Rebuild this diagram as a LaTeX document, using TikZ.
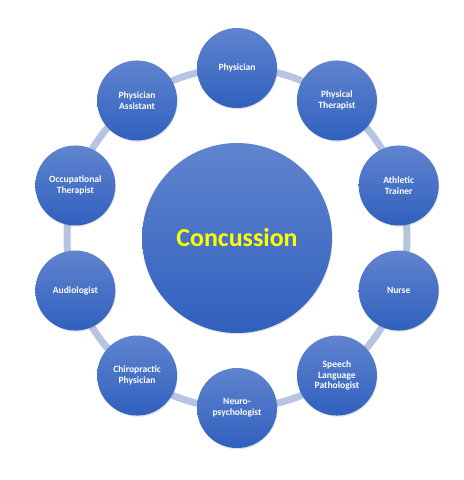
\documentclass[tikz,border=0pt]{standalone}
\usepackage{fontspec}
\setmainfont{Carlito}
\usetikzlibrary{shadows,calc}
\definecolor{topblue}{RGB}{96,132,206}
\definecolor{botblue}{RGB}{48,96,190}
\definecolor{ringcol}{RGB}{182,196,226}
\definecolor{concyellow}{RGB}{255,255,0}
\tikzset{
  bubble/.style={circle, minimum size=80bp, inner sep=0pt, top color=topblue, bottom color=botblue,
    draw=none, drop shadow={opacity=0.25, shadow xshift=0.6bp, shadow yshift=-1.2bp},
    text=white, align=center, font=\bfseries\fontsize{9.6}{10.8}\selectfont},
  bigbubble/.style={bubble, minimum size=190bp, text=concyellow, font=\bfseries\fontsize{26}{30}\selectfont},
  ring/.style={draw=ringcol, line width=7bp}
}
\begin{document}
\begin{tikzpicture}[x=1bp,y=-1bp]
\useasboundingbox (0,0) rectangle (464,480);
\coordinate (c) at (237,238);
\draw[ring] (c) circle[radius=170];
\node[bigbubble] (conc) at (c) {Concussion};
\node[bubble] (n1) at ($(c)+(-90:170)$) {Physician};
\node[bubble] (n2) at ($(c)+(-54:170)$) {Physical\\Therapist};
\node[bubble] (n3) at ($(c)+(-18:170)$) {Athletic\\Trainer};
\node[bubble] (n4) at ($(c)+(18:170)$) {Nurse};
\node[bubble] (n5) at ($(c)+(54:170)$) {Speech\\Language\\Pathologist};
\node[bubble] (n6) at ($(c)+(90:170)$) {Neuro-\\psychologist};
\node[bubble] (n7) at ($(c)+(126:170)$) {Chiropractic\\Physician};
\node[bubble] (n8) at ($(c)+(162:170)$) {Audiologist};
\node[bubble] (n9) at ($(c)+(198:170)$) {Occupational\\Therapist};
\node[bubble] (n10) at ($(c)+(234:170)$) {Physician\\Assistant};
\end{tikzpicture}
\end{document}
